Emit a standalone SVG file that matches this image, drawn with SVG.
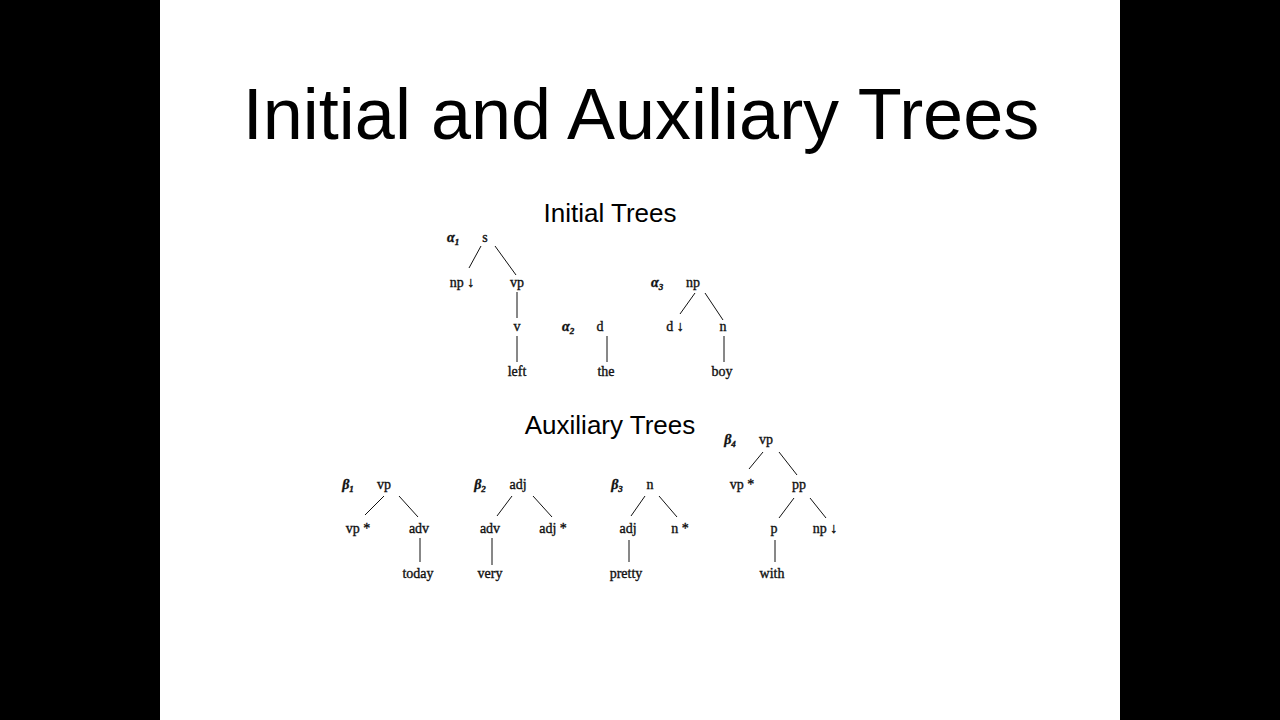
<svg xmlns="http://www.w3.org/2000/svg" width="1280" height="720" viewBox="0 0 1280 720">
<style>
.t{font-family:"Liberation Serif",serif;font-size:14px;fill:#111;text-anchor:middle;stroke:#111;stroke-width:0.35}
.g{font-style:italic;font-weight:bold}
.h{font-family:"Liberation Sans",Arial,sans-serif;fill:#000;text-anchor:middle;font-weight:300}
line{stroke:#111;stroke-width:1}
</style>
<rect width="1280" height="720" fill="#000"/>
<rect x="160" width="960" height="720" fill="#fff"/>
<text class="h" x="641" y="139" font-size="72">Initial and Auxiliary Trees</text>
<text class="h" x="610" y="222" font-size="26">Initial Trees</text>
<text class="h" x="610" y="434" font-size="26">Auxiliary Trees</text>
<g id="connectors">
<line x1="481" y1="246" x2="469" y2="268"/><line x1="495" y1="246" x2="516" y2="275"/>
<line x1="517" y1="292" x2="517" y2="318"/><line x1="517" y1="336" x2="517" y2="362"/>
<line x1="607" y1="336" x2="607" y2="362"/>
<line x1="695" y1="293" x2="680" y2="314"/><line x1="705" y1="293" x2="723" y2="320"/>
<line x1="724" y1="336" x2="724" y2="362"/>
<line x1="384" y1="496" x2="365" y2="515"/><line x1="399" y1="496" x2="418" y2="517"/>
<line x1="420" y1="538" x2="420" y2="562"/>
<line x1="512" y1="496" x2="497" y2="516"/><line x1="533" y1="496" x2="552" y2="517"/>
<line x1="492" y1="538" x2="492" y2="565"/>
<line x1="645" y1="496" x2="631" y2="516"/><line x1="659" y1="496" x2="677" y2="517"/>
<line x1="629" y1="540" x2="629" y2="562"/>
<line x1="763" y1="452" x2="749" y2="469"/><line x1="779" y1="452" x2="797" y2="475"/>
<line x1="794" y1="498" x2="779" y2="518"/><line x1="810" y1="498" x2="826" y2="518"/>
<line x1="775" y1="540" x2="775" y2="562"/>
</g>
<g id="alpha1"><text class="t g" x="453" y="242">α<tspan font-size="9" dy="3">1</tspan></text></g>
<g id="s"><text class="t" x="485" y="242">s</text></g>
<g id="np1"><text class="t" x="462" y="287">np ↓</text></g>
<g id="vp1"><text class="t" x="517" y="287">vp</text></g>
<g id="v"><text class="t" x="517" y="331">v</text></g>
<g id="left"><text class="t" x="517" y="376">left</text></g>
<g id="alpha2"><text class="t g" x="568" y="331">α<tspan font-size="9" dy="3">2</tspan></text></g>
<g id="d"><text class="t" x="600" y="331">d</text></g>
<g id="the"><text class="t" x="606" y="376">the</text></g>
<g id="alpha3"><text class="t g" x="657" y="287">α<tspan font-size="9" dy="3">3</tspan></text></g>
<g id="np3"><text class="t" x="693" y="287">np</text></g>
<g id="d3"><text class="t" x="675" y="331">d ↓</text></g>
<g id="n3"><text class="t" x="723" y="331">n</text></g>
<g id="boy"><text class="t" x="722" y="376">boy</text></g>
<g id="beta1"><text class="t g" x="348" y="489">β<tspan font-size="9" dy="3">1</tspan></text></g>
<g id="vpb1"><text class="t" x="384" y="489">vp</text></g>
<g id="vps1"><text class="t" x="358" y="533">vp *</text></g>
<g id="adv1"><text class="t" x="419" y="533">adv</text></g>
<g id="today"><text class="t" x="418" y="578">today</text></g>
<g id="beta2"><text class="t g" x="480" y="489">β<tspan font-size="9" dy="3">2</tspan></text></g>
<g id="adj2"><text class="t" x="518" y="489">adj</text></g>
<g id="adv2"><text class="t" x="490" y="533">adv</text></g>
<g id="adjs2"><text class="t" x="553" y="533">adj *</text></g>
<g id="very"><text class="t" x="490" y="578">very</text></g>
<g id="beta3"><text class="t g" x="617" y="489">β<tspan font-size="9" dy="3">3</tspan></text></g>
<g id="n3b"><text class="t" x="650" y="489">n</text></g>
<g id="adj3"><text class="t" x="628" y="533">adj</text></g>
<g id="ns3"><text class="t" x="680" y="533">n *</text></g>
<g id="pretty"><text class="t" x="626" y="578">pretty</text></g>
<g id="beta4"><text class="t g" x="730" y="444">β<tspan font-size="9" dy="3">4</tspan></text></g>
<g id="vp4"><text class="t" x="766" y="444">vp</text></g>
<g id="vps4"><text class="t" x="742" y="489">vp *</text></g>
<g id="pp4"><text class="t" x="799" y="489">pp</text></g>
<g id="p4"><text class="t" x="774" y="533">p</text></g>
<g id="np4"><text class="t" x="825" y="533">np ↓</text></g>
<g id="with"><text class="t" x="772" y="578">with</text></g>
</svg>
